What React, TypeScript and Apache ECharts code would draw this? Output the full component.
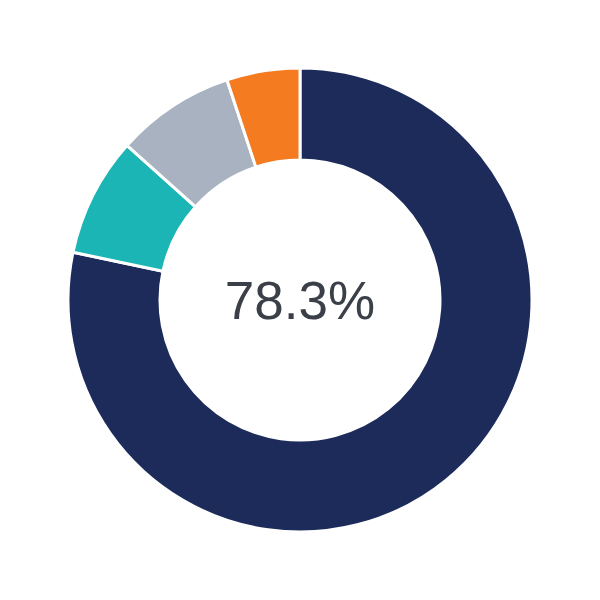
import React, { useEffect, useRef } from "react";
import * as echarts from "echarts";

const categories = ["Primary", "Segment B", "Segment C", "Segment D"];
const values = [78.3, 8.3, 8.3, 5.1];
const sliceColors = ["#1c2b5a", "#1cb5b5", "#a8b2c1", "#f47b20"];
const centerLabel = "78.3%";

const App: React.FC = () => {
  const chartRef = useRef<HTMLDivElement>(null);

  useEffect(() => {
    if (!chartRef.current) return;
    const chart = echarts.init(chartRef.current, null, { renderer: "svg" });

    chart.setOption({
      animation: false,
      backgroundColor: "#ffffff",
      title: {
        text: centerLabel,
        left: "center",
        top: "center",
        textStyle: {
          fontFamily: "Liberation Sans",
          fontSize: 53,
          fontWeight: "normal",
          color: "#3a3f48",
        },
      },
      series: [
        {
          type: "pie",
          center: ["50%", "50%"],
          radius: [140, 232],
          startAngle: 90,
          clockwise: true,
          label: { show: false },
          labelLine: { show: false },
          emphasis: { disabled: true },
          itemStyle: { borderColor: "#ffffff", borderWidth: 3 },
          data: categories.map((name, i) => ({
            name,
            value: values[i],
            itemStyle: { color: sliceColors[i] },
          })),
        },
      ],
    });

    return () => {
      chart.dispose();
    };
  }, []);

  return (
    <div
      ref={chartRef}
      style={{ position: "absolute", left: 0, top: 0, width: 600, height: 600 }}
    />
  );
};

export default App;
